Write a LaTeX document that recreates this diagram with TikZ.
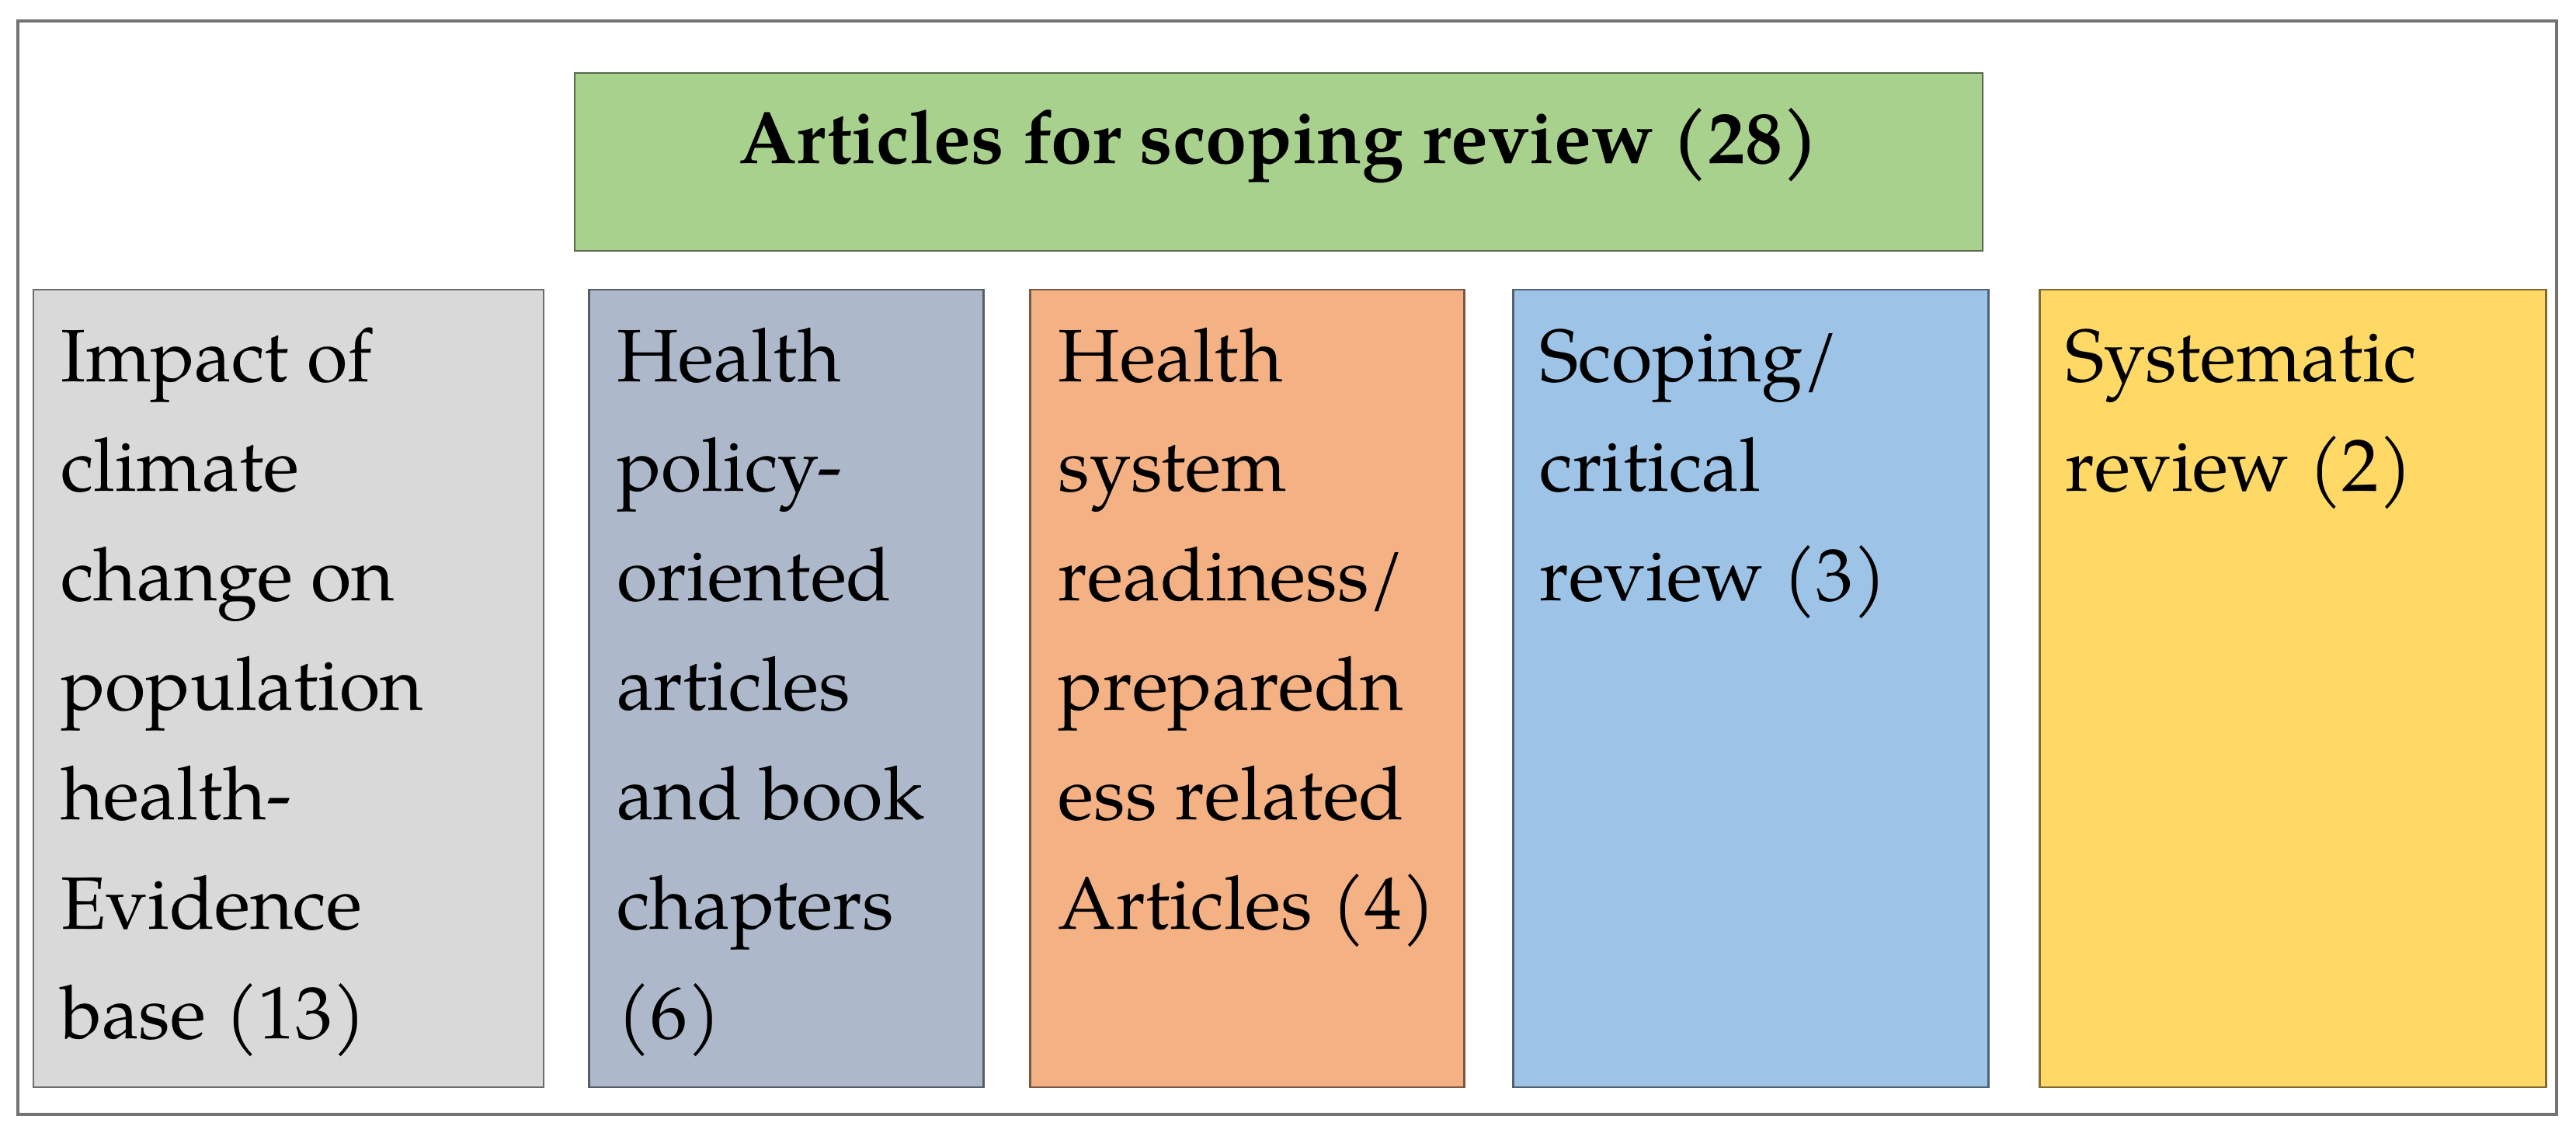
\documentclass[tikz,border=0pt]{standalone}
\usepackage{fontspec}
\setmainfont{TeX Gyre Pagella}
\usetikzlibrary{positioning}

\definecolor{greenfill}{HTML}{A9D18E}
\definecolor{greyfill}{HTML}{D9D9D9}
\definecolor{slatefill}{HTML}{ADB9CA}
\definecolor{orangefill}{HTML}{F4B183}
\definecolor{bluefill}{HTML}{9DC3E6}
\definecolor{yellowfill}{HTML}{FFD966}

\begin{document}
\begin{tikzpicture}[node distance=0.56cm,
                    box/.style={rectangle,draw=#1!50!black,fill=#1,line width=0.8pt,
                                minimum height=10.27cm,inner sep=0pt},
                    % anchor is the last line, so shift down by the lines below the first
                    col text/.style={anchor=base west,align=left,inner sep=0pt,
                                     font=\fontsize{27.2}{40.1}\selectfont,yshift=-#1*40.1pt}]

  \useasboundingbox (0,0) rectangle (33.17,14.59);
  \draw[black!55,line width=0.9pt] (0.23,0.24) rectangle (32.92,14.32);

  \node[box=greenfill,minimum width=18.13cm,minimum height=2.29cm] (0) at (16.465,12.505) {};
  \node[anchor=base,font=\bfseries\fontsize{27.2}{32}\selectfont] (title)
       at ([yshift=-1.18cm]0.north) {Articles for scoping review (28)};

  \node[box=greyfill,minimum width=6.57cm] (1) at (3.715,5.725) {};
  \node[box=slatefill,minimum width=5.08cm] (2) [right=of 1] {};
  \node[box=orangefill,minimum width=5.59cm] (3) [right=0.57cm of 2] {};
  \node[box=bluefill,minimum width=6.12cm] (4) [right=0.60cm of 3] {};
  \node[box=yellowfill,minimum width=6.52cm] (5) [right=0.63cm of 4] {};

  \node[col text=6] (t1) at ([xshift=0.36cm,yshift=-1.2cm]1.north west)
       {Impact of\\climate\\change on\\population\\health-\\Evidence\\base (13)};
  \node[col text=6] (t2) at ([xshift=0.36cm,yshift=-1.2cm]2.north west)
       {Health\\policy-\\oriented\\articles\\and book\\chapters\\(6)};
  \node[col text=5] (t3) at ([xshift=0.37cm,yshift=-1.2cm]3.north west)
       {Health\\system\\readiness/\\preparedn\\ess related\\Articles (4)};
  \node[col text=2] (t4) at ([xshift=0.35cm,yshift=-1.2cm]4.north west)
       {Scoping/\\critical\\review (3)};
  \node[col text=1] (t5) at ([xshift=0.34cm,yshift=-1.2cm]5.north west)
       {Systematic\\review (2)};
\end{tikzpicture}
\end{document}
